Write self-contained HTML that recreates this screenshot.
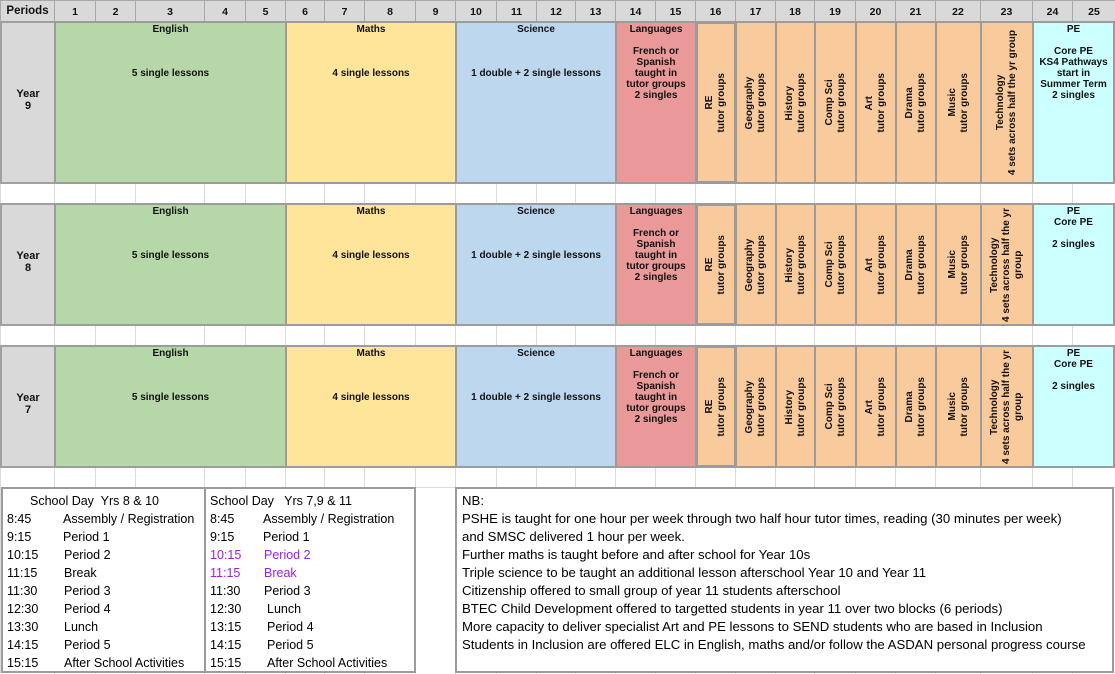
<!DOCTYPE html>
<html><head><meta charset="utf-8">
<style>
body{margin:0;width:1115px;height:674px;overflow:hidden;background:#fff;font-family:"Liberation Sans",sans-serif;position:relative}
.a{position:absolute;box-sizing:border-box}
.gl{position:absolute;width:1px;background:#dcdcdc}
.hl{position:absolute;height:1px;background:#dcdcdc;left:0;width:1115px}
.hd{background:#d9d9d9;border:1px solid #a8a8a8;font-weight:bold;font-size:10.5px;text-align:center;line-height:20px;color:#111}
.blk{border:2px solid #9c9c9c;font-weight:bold;font-size:10px;color:#111;text-align:center;line-height:11px}
.vt{position:absolute;left:0;top:0;width:100%;height:100%;display:flex;align-items:center;justify-content:center}
.vt span{writing-mode:vertical-rl;transform:rotate(180deg);font-weight:bold;font-size:10px;line-height:12px;text-align:center}
.box{border:2px solid #9c9c9c;background:#fff;font-size:12.5px;color:#000;line-height:18px}
.row{position:absolute;white-space:nowrap}
</style></head>
<body>
<div id="grid"></div>
<div id="main"></div>

<div class="a box" style="left:1px;top:487px;width:205px;height:186px;">
 <div class="row" style="left:27px;top:3px">School Day&nbsp; Yrs 8 &amp; 10</div>
 <div class="row" style="left:4px;top:21px">8:45</div><div class="row" style="left:60px;top:21px">Assembly / Registration</div>
 <div class="row" style="left:4px;top:39px">9:15</div><div class="row" style="left:60px;top:39px">Period 1</div>
 <div class="row" style="left:4px;top:57px">10:15</div><div class="row" style="left:61px;top:57px">Period 2</div>
 <div class="row" style="left:4px;top:75px">11:15</div><div class="row" style="left:61px;top:75px">Break</div>
 <div class="row" style="left:4px;top:93px">11:30</div><div class="row" style="left:61px;top:93px">Period 3</div>
 <div class="row" style="left:4px;top:111px">12:30</div><div class="row" style="left:61px;top:111px">Period 4</div>
 <div class="row" style="left:4px;top:129px">13:30</div><div class="row" style="left:61px;top:129px">Lunch</div>
 <div class="row" style="left:4px;top:147px">14:15</div><div class="row" style="left:61px;top:147px">Period 5</div>
 <div class="row" style="left:4px;top:165px">15:15</div><div class="row" style="left:61px;top:165px">After School Activities</div>
</div>
<div class="a box" style="left:204px;top:487px;width:212px;height:186px;">
 <div class="row" style="left:4px;top:3px">School Day&nbsp;&nbsp; Yrs 7,9 &amp; 11</div>
 <div class="row" style="left:4px;top:21px">8:45</div><div class="row" style="left:57px;top:21px">Assembly / Registration</div>
 <div class="row" style="left:4px;top:39px">9:15</div><div class="row" style="left:57px;top:39px">Period 1</div>
 <div class="row" style="left:4px;top:57px;color:#9b1ee8">10:15</div><div class="row" style="left:58px;top:57px;color:#9b1ee8">Period 2</div>
 <div class="row" style="left:4px;top:75px;color:#9b1ee8">11:15</div><div class="row" style="left:58px;top:75px;color:#9b1ee8">Break</div>
 <div class="row" style="left:4px;top:93px">11:30</div><div class="row" style="left:58px;top:93px">Period 3</div>
 <div class="row" style="left:4px;top:111px">12:30</div><div class="row" style="left:61px;top:111px">Lunch</div>
 <div class="row" style="left:4px;top:129px">13:15</div><div class="row" style="left:61px;top:129px">Period 4</div>
 <div class="row" style="left:4px;top:147px">14:15</div><div class="row" style="left:61px;top:147px">Period 5</div>
 <div class="row" style="left:4px;top:165px">15:15</div><div class="row" style="left:61px;top:165px">After School Activities</div>
</div>
<div class="a box" style="left:455px;top:487px;width:659px;height:186px;padding:3px 0 0 5px;font-size:13.2px;">
 <div>NB:</div>
 <div>PSHE is taught for one hour per week through two half hour tutor times, reading (30 minutes per week)</div>
 <div>and SMSC delivered 1 hour per week.</div>
 <div>Further maths is taught before and after school for Year 10s</div>
 <div>Triple science to be taught an additional lesson afterschool Year 10 and Year 11</div>
 <div>Citizenship offered to small group of year 11 students afterschool</div>
 <div>BTEC Child Development offered to targetted students in year 11 over two blocks (6 periods)</div>
 <div>More capacity to deliver specialist Art and PE lessons to SEND students who are based in Inclusion</div>
 <div>Students in Inclusion are offered ELC in English, maths and/or follow the ASDAN personal progress course</div>
</div>

<script>
const colX=[0,54,95,135,204,245,285,324,364,415,455,496,536,575,615,655,695,735,775,814,855,895,935,980,1032,1072,1115];
const periods=["1","2","3","4","5","6","7","8","9","10","11","12","13","14","15","16","17","18","19","20","21","22","23","24","25"];
const years=["9","8","7"];
const yearTop=[21,203,345];
const yearBot=[183,325,467];
const orangeSubjects=["RE","Geography","History","Comp Sci","Art","Drama","Music"];
const grid=document.getElementById('grid');
const main=document.getElementById('main');
function mk(parent,cls,l,t,w,h,bg){
  const d=document.createElement('div');
  d.className='a '+cls;
  d.style.left=l+'px';d.style.top=t+'px';d.style.width=w+'px';d.style.height=h+'px';
  if(bg)d.style.background=bg;
  parent.appendChild(d);return d;
}
for(const x of colX){
  const g=document.createElement('div');g.className='gl';
  
  
  g.style.left=x+'px';g.style.top='0';g.style.height='674px';grid.appendChild(g);
}
for(const y of [183,203,325,345,467,487]){
  const g=document.createElement('div');g.className='hl';
  
  
  g.style.top=y+'px';grid.appendChild(g);
}
const ph=mk(main,'hd',0,0,55,22);


ph.style.fontSize='11.5px';ph.textContent='Periods';
periods.forEach((p,i)=>{
  const c=mk(main,'hd',colX[i+1],0,colX[i+2]-colX[i+1]+1,22);
  
  
  c.style.paddingTop='1px';
  c.textContent=p;
});
function blk(l,r,t,b,bg,html,name){
  const d=mk(main,'blk',l,t,r-l+2,b-t+1,bg);
  
  
  d.innerHTML=html;return d;
}
years.forEach((y,k)=>{
  const t=yearTop[k],b=yearBot[k],h=b-t;
  const mid=Math.round(h/2)-17;
  const yl=blk(0,54,t,b,'#d9d9d9','<div style="position:absolute;left:0;right:0;top:'+(mid+1)+'px;font-size:11px;line-height:12px">Year<br>'+y+'</div>','year-'+y+'-label');
  yl.style.borderColor='#a0a0a0';
  blk(54,285,t,b,'#b6d7a8','<div style="margin-top:1px">English</div><div style="margin-top:33px">5 single lessons</div>','year-'+y+'-english');
  blk(285,455,t,b,'#ffe599','<div style="margin-top:1px">Maths</div><div style="margin-top:33px">4 single lessons</div>','year-'+y+'-maths');
  blk(455,615,t,b,'#bdd7ee','<div style="margin-top:1px">Science</div><div style="margin-top:33px">1 double + 2 single lessons</div>','year-'+y+'-science');
  blk(615,695,t,b,'#ea9999','<div style="margin-top:1px">Languages</div><div style="margin-top:11px">French or<br>Spanish<br>taught in<br>tutor groups<br>2 singles</div>','year-'+y+'-languages');
  orangeSubjects.forEach((s,i)=>{
    const d=blk(colX[16+i],colX[17+i],t,b,'#f9cb9c','<div class="vt"><span>'+s+'<br>tutor groups</span></div>','year-'+y+'-'+s.toLowerCase().replace(' ','-'));
    if(i==0){d.style.borderWidth='3px';}
  });
  const tech=k==0?'Technology<br>4 sets across half the yr group':'Technology<br>4 sets across half the yr<br>group';
  blk(colX[23],colX[24],t,b,'#f9cb9c','<div class="vt"><span>'+tech+'</span></div>','year-'+y+'-technology');
  const pe=k==0?'<div style="margin-top:1px">PE</div><div style="margin-top:11px">Core PE<br>KS4 Pathways<br>start in<br>Summer Term<br>2 singles</div>'
               :'<div style="margin-top:1px">PE<br>Core PE</div><div style="margin-top:11px">2 singles</div>';
  blk(colX[24],1113,t,b,'#ccffff',pe,'year-'+y+'-pe');
});
</script>
</body></html>
